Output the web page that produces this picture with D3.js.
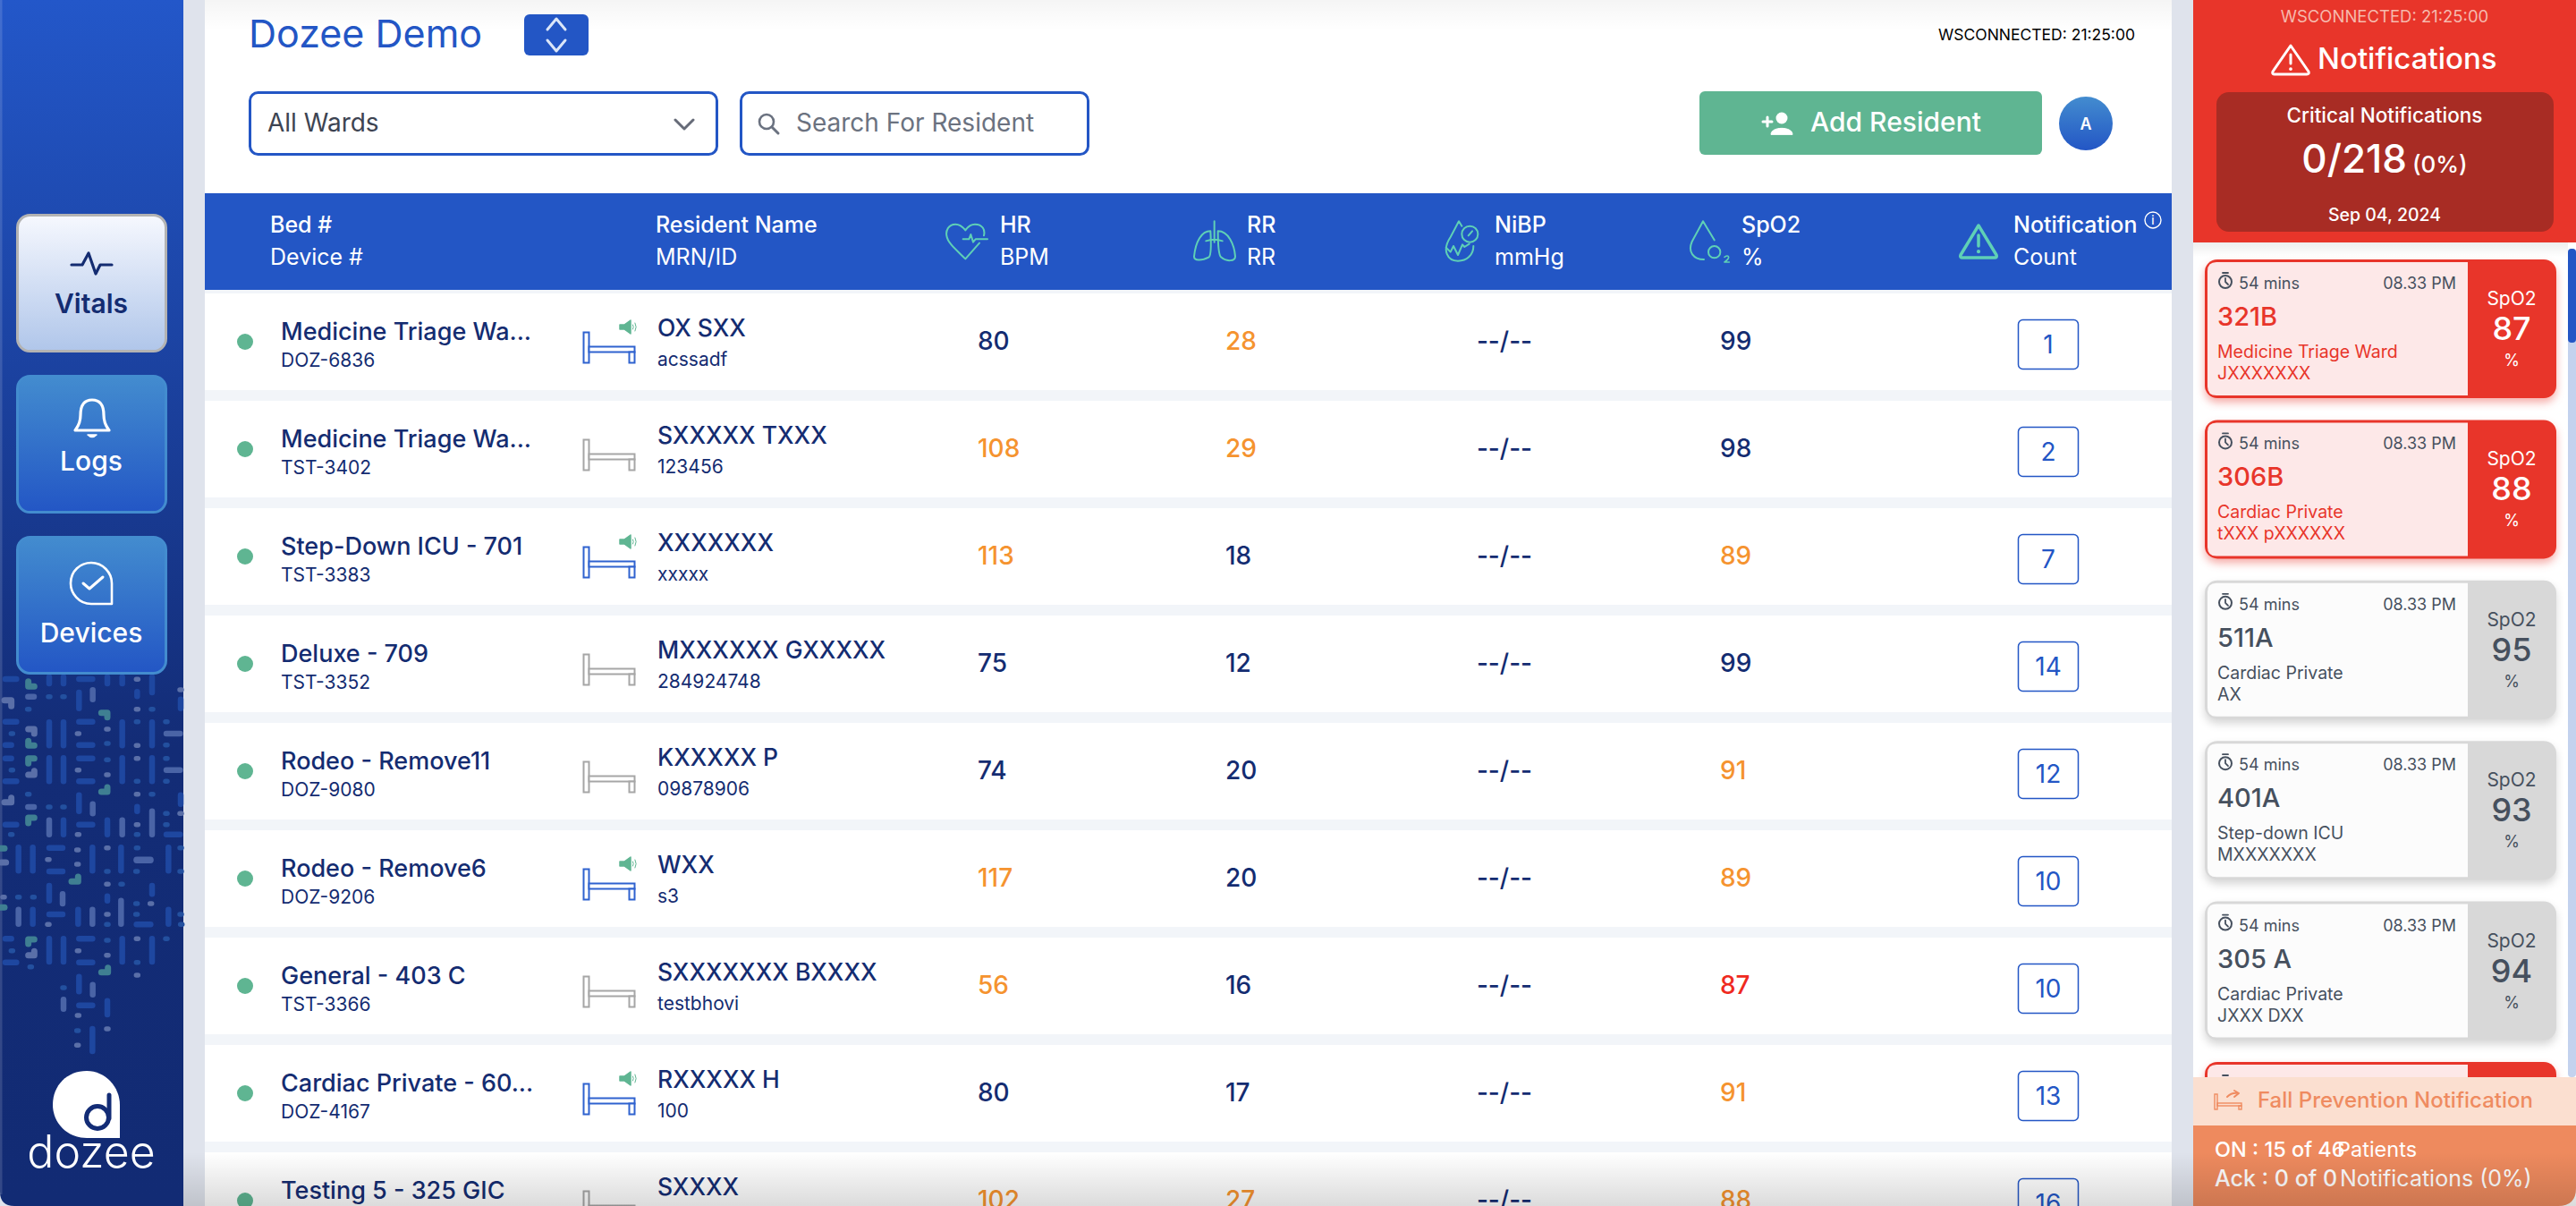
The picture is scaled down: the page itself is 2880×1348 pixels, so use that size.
<!DOCTYPE html>
<html><head><meta charset="utf-8">
<script src="https://cdn.jsdelivr.net/npm/d3@7"></script>
<style>html,body{margin:0;padding:0;background:#e1e6f0;overflow:hidden}svg{display:block}text{font-family:Inter,"Noto Sans",sans-serif}</style>
</head><body><svg id="c" width="2880" height="1348" viewBox="0 0 2880 1348"></svg>
<script>
// ---------- data ----------
const bedNames=["Medicine Triage Wa...","Medicine Triage Wa...","Step-Down ICU - 701","Deluxe - 709","Rodeo - Remove11","Rodeo - Remove6","General - 403 C","Cardiac Private - 60...","Testing 5 - 325 GIC"];
const deviceIds=["DOZ-6836","TST-3402","TST-3383","TST-3352","DOZ-9080","DOZ-9206","TST-3366","DOZ-4167",""];
const residentNames=["OX SXX","SXXXXX TXXX","XXXXXXX","MXXXXXX GXXXXX","KXXXXX P","WXX","SXXXXXXX BXXXX","RXXXXX H","SXXXX"];
const residentIds=["acssadf","123456","xxxxx","284924748","09878906","s3","testbhovi","100",""];
const hrValues=[80,108,113,75,74,117,56,80,102];
const rrValues=[28,29,18,12,20,20,16,17,27];
const spo2Values=[99,98,89,99,91,89,87,91,88];
const notifCounts=[1,2,7,14,12,10,10,13,16];
const occupied=[1,0,1,0,0,1,0,1,0];
const cardBeds=["321B","306B","511A","401A","305 A",""];
const cardWards=["Medicine Triage Ward","Cardiac Private","Cardiac Private","Step-down ICU","Cardiac Private",""];
const cardNames=["JXXXXXXX","tXXX pXXXXXX","AX","MXXXXXXX","JXXX DXX",""];
const cardValues=[87,88,95,93,94,null];
const cardCritical=[1,1,0,0,0,1];
const navItems=["Vitals","Logs","Devices"];
const headerTop=["Bed #","Resident Name","HR","RR","NiBP","SpO2","Notification"];
const headerBottom=["Device #","MRN/ID","BPM","RR","mmHg","%","Count"];
// sidebar background texture, traced dash by dash
const dashBlue=[[18,57,55,57],[265,57,310,57],[18,200,55,200],[265,200,310,200],[18,278,38,278],[265,278,310,278],[18,323,38,323],[265,323,310,323],[18,400,55,400],[265,400,310,400],[18,545,55,545],[265,545,310,545],[558,578,604,578],[165,623,210,623],[165,202,165,280],[213,202,213,280],[165,322,165,400],[213,322,213,400],[265,102,265,155],[410,202,410,280],[510,202,510,280],[410,322,410,400],[510,322,510,400],[265,446,265,500],[606,125,606,155],[606,446,606,476],[360,530,360,578],[213,530,213,578],[62,622,62,700],[110,622,110,700],[310,622,310,700],[406,622,406,700],[565,622,565,700],[165,50,165,72],[213,50,213,72],[360,50,360,72],[410,50,410,72],[510,50,510,102],[460,100,460,115],[460,485,460,500],
[165,702,210,702],[165,846,210,846],[458,880,505,880],[265,928,310,928],[265,1007,310,1007],[265,1151,310,1151],[18,1007,55,1007],[18,928,38,928],[165,750,165,800],[510,750,510,778],[262,830,262,878],[110,830,110,878],[565,830,565,878],[165,928,165,1005],[213,928,213,1005],[410,928,410,1005],[510,928,510,1005],[265,1055,265,1105],[360,1136,360,1182],[310,1230,310,1305],[360,785,360,800]];
const dashPale=[[558,240,604,240],[558,362,604,362],[94,116,114,116],[94,486,114,486],[458,662,505,662],[311,94,311,125],[311,476,311,508],[165,530,165,578],[410,530,410,578],[510,500,510,578],[458,665,505,665],[210,778,210,810],[62,830,62,878],[310,830,310,878],[406,800,406,878],[311,1082,311,1115],[213,1132,213,1163]];
const dotPale=[[460,58],[262,240],[360,225],[460,280],[460,323],[262,362],[360,378],[460,443],[460,545],[262,578],[606,93],[460,158],[360,623],[260,630],[260,678],[162,662],[606,508],[12,788],[506,810],[360,846],[162,880],[460,928],[262,968],[360,983],[460,1050],[262,1185],[360,1230],[260,1285],[360,745]];
const dotBlue=[[165,116],[213,116],[95,158],[40,240],[510,158],[460,200],[558,200],[558,278],[360,273],[360,328],[558,323],[40,362],[460,400],[558,400],[95,443],[510,443],[165,486],[213,486],[558,508],[558,545],[460,578],[38,578],[460,623],[606,623],[360,702],[458,702],[408,745],[62,788],[112,788],[458,810],[458,846],[606,846],[360,880],[608,880],[360,933],[558,928],[40,968],[460,1007],[103,1022],[213,1092],[260,1236],[606,702]];
const blobTeal=[[[95,65],[95,82],[115,82]],[[340,170],[360,170],[360,185]],[[95,265],[95,280],[115,280]],[[115,323],[95,323],[95,340]],[[340,435],[360,435],[360,420]],[[115,522],[95,522],[95,540]],[[0,625],[15,625]],[[240,736],[262,736],[262,720]],[[95,945],[95,930],[115,930]],[[340,1040],[362,1040],[362,1025]],[[0,823],[15,823]]];
const blobPale=[[[15,128],[38,128],[38,148]],[[95,225],[115,225],[115,240]],[[115,365],[115,378],[95,378]],[[15,470],[38,470],[38,455]],[[5,672],[20,672]],[[115,970],[115,983],[95,983]]];

// ---------- palette ----------
const BLUE="#2356c5",NAVY="#142c71",ORANGE="#f5932f",RED="#ef2a1f",GREEN="#5fb592",TEAL="#5fd0b6",REDP="#e8352a",GREY="#46505e";
const svg=d3.select("#c");
const defs=svg.append("defs");
function grad(id,stops,y1=0,y2=1){const g=defs.append("linearGradient").attr("id",id).attr("x1",0).attr("x2",0).attr("y1",y1).attr("y2",y2);
  stops.forEach(s=>g.append("stop").attr("offset",s[0]).attr("stop-color",s[1]).attr("stop-opacity",s[2]===undefined?1:s[2]));}
grad("side",[[0,"#2357c9"],[.62,"#132c76"],[1,"#122b74"]]);
grad("act",[[0,"#f6f8fe"],[1,"#b0c6ea"]]);
grad("inact",[[0,"#438ccf"],[1,"#2356c5"]]);
grad("fadeT",[[0,"#000",.04],[1,"#000",0]]);
grad("fadeB",[[0,"#000",0],[1,"#000",.14]]);
grad("shad",[[0,"#000",.07],[1,"#000",0]]);

function T(p,x,y,s,size,weight,fill,anchor,ls){return p.append("text").attr("x",x).attr("y",y).text(s).attr("font-size",size).attr("font-weight",weight||400).attr("fill",fill).attr("text-anchor",anchor||"start").attr("letter-spacing",ls===undefined?null:ls);}
function R(p,x,y,w,h,fill,rx){return p.append("rect").attr("x",x).attr("y",y).attr("width",w).attr("height",h).attr("fill",fill).attr("rx",rx||0);}
function P(p,d,stroke,sw,fill){return p.append("path").attr("d",d).attr("fill",fill||"none").attr("stroke",stroke||"none").attr("stroke-width",sw||0).attr("stroke-linecap","round").attr("stroke-linejoin","round");}

// ---------- page background ----------
R(svg,0,0,2880,1348,"#dfe3ec");
R(svg,229,0,2199,1348,"#f2f5f9");
R(svg,229,0,2199,216,"#ffffff");
R(svg,229,0,2199,34,"url(#fadeT)");

// ---------- sidebar ----------
P(svg,"M0 0H205V1348H16Q0 1348 0 1332Z",null,0,"url(#side)");
R(svg,0,0,2.5,1335,"#ffffff").attr("opacity",.14);
const tx=d3.scaleLinear().domain([0,630]).range([0,210]);
const ty=d3.scaleLinear().domain([0,690]).range([740,970]);
const tex=svg.append("g").attr("stroke-linecap","round").attr("stroke-linejoin","round").attr("fill","none");
const ln=d3.line().x(d=>tx(d[0])).y(d=>ty(d[1]));
function dash(arr,color,w){arr.forEach(a=>{const pts=a.length===2&&typeof a[0]==="number"?[[a[0]-3,a[1]],[a[0]+3,a[1]]]:(typeof a[0]==="number"?[[a[0],a[1]],[a[2],a[3]]]:a);
  tex.append("path").attr("d",ln(pts)).attr("stroke",color).attr("stroke-width",w);});}
dash(dashBlue,"#1e47a0",6.5);dash(dashPale,"#4a64a6",6.5);dash(dotBlue,"#23509f",5.5);dash(dotPale,"#5a6fa8",5.5);dash(blobTeal,"#3f7f92",7);dash(blobPale,"#5a6fa8",7);

const navY=d3.scaleBand().domain(navItems).range([239,754]).paddingInner(.138);
navItems.forEach((n,i)=>{
  const y=navY(n),h=navY.bandwidth(),a=i===0;
  R(svg,19.5,y+1.5,166,h-3,a?"url(#act)":"url(#inact)",14).attr("stroke",a?"#b3b3b3":"#438ccf").attr("stroke-width",3);
});
T(svg,102,350,"Vitals",30,600,NAVY,"middle");
T(svg,102,526,"Logs",30,500,"#fff","middle");
T(svg,102,718,"Devices",30,500,"#fff","middle");
P(svg,"M80 296H92L99 283L107 306L112 296H125",NAVY,3.2);
P(svg,"M103 447C92 447 90 456 90 464C90 474 86 478 84 481H122C120 478 116 474 116 464C116 456 114 447 103 447Z","#fff",3.2);
P(svg,"M98 486Q103 491 108 486Z","#fff",1.5,"#fff");
P(svg,"M125 675H102C88 675 79 663 79 652C79 638 90 629 102 629C115 629 125 640 125 652Z","#fff",2.6);
P(svg,"M93 652L100 658L115 645","#fff",3);
// logo
P(svg,"M134 1272H97C75 1272 59 1255 59 1235C59 1213 75 1197 97 1197C118 1197 134 1215 134 1235Z",null,0,"#fff");
svg.append("circle").attr("cx",109).attr("cy",1249).attr("r",12.5).attr("fill","none").attr("stroke","#132c76").attr("stroke-width",5);
P(svg,"M122 1224V1250","#132c76",5);
T(svg,102,1305,"dozee",50,300,"#fff","middle");

// ---------- top bar ----------
T(svg,278,53,"Dozee Demo",43,400,BLUE);
R(svg,586,16,72,46,BLUE,6);
P(svg,"M612 33L622 21L632 33M612 45L622 57L632 45","#dbe6f8",3);
R(svg,279.5,103.5,522,69,"#fff",9).attr("stroke",BLUE).attr("stroke-width",3);
R(svg,828.5,103.5,388,69,"#fff",9).attr("stroke",BLUE).attr("stroke-width",3);
T(svg,299,147,"All Wards",28,400,"#3d4452");
P(svg,"M755 134L765 144L775 134","#666b78",3);
svg.append("circle").attr("cx",857).attr("cy",136).attr("r",8).attr("fill","none").attr("stroke","#6b7280").attr("stroke-width",2.6);
P(svg,"M863 142L870 149","#6b7280",3);
T(svg,890,147,"Search For Resident",28,400,"#6b7280");
R(svg,1900,102,383,71,GREEN,6);
P(svg,"M1971 136H1981M1976 131V141","#fff",3);
svg.append("circle").attr("cx",1992).attr("cy",132).attr("r",6.5).attr("fill","#fff");
P(svg,"M1980 150C1980 141 2004 141 2004 150Z","#fff",1,"#fff");
T(svg,2024,147,"Add Resident",30,500,"#fff");
svg.append("circle").attr("cx",2332).attr("cy",138).attr("r",30).attr("fill","url(#inact)");
T(svg,2332,145,"A",18,600,"#fff","middle");
T(svg,2167,45,"WSCONNECTED: 21:25:00",17.5,400,"#000");

// ---------- table header ----------
R(svg,229,216,2199,108,BLUE);
const headerX=[302,733,1118,1394,1671,1947,2251];
headerTop.forEach((t,i)=>{T(svg,headerX[i],260,t,25,500,"#fff");T(svg,headerX[i],296,headerBottom[i],25,400,"#fff");});
const ico=(x,y)=>svg.append("g").attr("transform",`translate(${x},${y}) scale(${1/3})`).attr("stroke",TEAL);
const heart=ico(1050,230);
P(heart,"M150 100C155 80 145 62 120 62C105 62 95 72 88 82C80 72 70 62 55 62C30 62 22 85 25 100C28 125 60 150 88 178L135 125",TEAL,6);
P(heart,"M80 112H100L106 96L114 122L122 112H162",TEAL,6);
const lung=ico(1050,230);
P(lung,"M923 52V122M895 118Q923 108 950 118",TEAL,6);
P(lung,"M910 85C880 85 860 120 855 170C855 185 880 185 905 172C912 165 912 120 910 85Z",TEAL,6);
P(lung,"M935 85C970 85 990 130 993 170C993 185 965 190 945 172C938 165 935 120 935 85Z",TEAL,6);
const nibp=ico(1600,230);
P(nibp,"M103 68L93 52L65 105C35 150 55 185 90 185C120 185 142 165 142 135",TEAL,6);
nibp.append("circle").attr("cx",130).attr("cy",95).attr("r",27).attr("fill","none").attr("stroke",TEAL).attr("stroke-width",6);
P(nibp,"M125 100L138 85",TEAL,6);
P(nibp,"M50 140L65 155L75 135L90 165L105 130L112 138L128 128",TEAL,6);
const drop=ico(1600,230);
P(drop,"M912 52L875 120C860 155 880 180 915 180M912 52L950 115",TEAL,6);
drop.append("circle").attr("cx",950).attr("cy",155).attr("r",20).attr("fill","none").attr("stroke",TEAL).attr("stroke-width",6);
P(drop,"M984 172Q996 164 998 172Q998 180 984 189H1000",TEAL,5);
const triangle="M0 2L20 35Q21 38 18 38H-18Q-21 38 -20 35Z";
const tri=svg.append("g").attr("transform","translate(2212,250)");
P(tri,triangle,TEAL,3.5);P(tri,"M0 13V25",TEAL,3.5);P(tri,"M0 31V31.2",TEAL,4);
svg.append("circle").attr("cx",2407).attr("cy",246).attr("r",9).attr("fill","none").attr("stroke","#fff").attr("stroke-width",1.4);
T(svg,2407,251,"i",13,500,"#fff","middle");

// ---------- table rows ----------
const rowY=d3.scaleLinear().domain([0,1]).range([328,448]);
const rowH=108;
const hrColor=v=>(v>100||v<60)?ORANGE:NAVY;
const rrColor=v=>v>=25?ORANGE:NAVY;
const spColor=v=>v<=87?RED:(v<=91?ORANGE:NAVY);
bedNames.forEach((bed,i)=>{
  const g=svg.append("g").attr("transform",`translate(0,${rowY(i)})`);
  R(g,229,0,2199,rowH,"#fff");
  g.append("circle").attr("cx",274).attr("cy",54).attr("r",9).attr("fill",GREEN);
  T(g,314,52,bed,27,500,NAVY);
  T(g,314,82,deviceIds[i],21,400,NAVY);
  const c=occupied[i]?"#2f62cf":"#a6a6a6";
  const b=g.append("g").attr("fill","#fff").attr("stroke",c).attr("stroke-width",2);
  b.append("rect").attr("x",652.5).attr("y",43.5).attr("width",6).attr("height",34);
  b.append("rect").attr("x",658.5).attr("y",59.5).attr("width",51).attr("height",6);
  b.append("rect").attr("x",703.5).attr("y",65.5).attr("width",6).attr("height",12);
  if(occupied[i]){
    P(g,"M693 35H698L705 30V45L698 40H693Z",GREEN,1.5,GREEN);
    P(g,"M707.5 35Q709 37.5 707.5 40M710 33Q712.5 37.5 710 42",GREEN,1);
  }
  T(g,735,48,residentNames[i],26.5,500,NAVY);
  T(g,735,81,residentIds[i],21,400,NAVY);
  T(g,1093,63,hrValues[i],28,500,hrColor(hrValues[i]));
  T(g,1370,63,rrValues[i],28,500,rrColor(rrValues[i]));
  T(g,1682,63,"--/--",28,500,NAVY,"middle");
  T(g,1923,63,spo2Values[i],28,500,spColor(spo2Values[i]));
  R(g,2256.5,29.5,67,55,"#fff",5).attr("stroke",BLUE).attr("stroke-width",1.5);
  T(g,2290,67,notifCounts[i],28,400,BLUE,"middle");
});

// ---------- notifications panel ----------
R(svg,2452,0,428,1348,"#fff");
R(svg,2871,278,9,926,"#c3d2ee",4);
R(svg,2871,278,9,105,BLUE,4);
R(svg,2452,271,419,16,"url(#shad)");
const cardY=d3.scaleLinear().domain([0,1]).range([290,469.4]);
cardBeds.forEach((bed,i)=>{
  const crit=cardCritical[i],acc=crit?REDP:"#d8d8d8",ink=crit?REDP:GREY;
  const g=svg.append("g").attr("transform",`translate(0,${cardY(i)})`);
  R(g,2465,0,393,155,acc,14).style("filter",`drop-shadow(0 5px 5px ${crit?"rgba(232,53,42,.4)":"rgba(0,0,0,.16)"})`);
  P(g,"M2759 3V152H2478Q2468 152 2468 142V13Q2468 3 2478 3Z",null,0,crit?"#fde8e8":"#fcfcfc");
  g.append("circle").attr("cx",2488).attr("cy",25).attr("r",7).attr("fill","none").attr("stroke",GREY).attr("stroke-width",2);
  P(g,"M2485 15H2491M2488 21V25L2491 28",GREY,1.8);
  if(bed){
    T(g,2503,33,"54 mins",18,400,GREY);
    T(g,2746,33,"08.33 PM",18,400,GREY,"end");
    T(g,2479,74,bed,29,500,ink);
    T(g,2479,110,cardWards[i],19.5,400,ink);
    T(g,2479,134,cardNames[i],19.5,400,ink);
    const side=crit?"#fff":GREY;
    T(g,2808,51,"SpO2",21,400,side,"middle");
    T(g,2808,90,cardValues[i],36,500,side,"middle");
    T(g,2808,119,"%",18,400,side,"middle");
  }
});
// red header
R(svg,2452,0,428,271,REDP);
T(svg,2666,25,"WSCONNECTED: 21:25:00",18.5,400,"#f6b9ad","middle");
const tri2=svg.append("g").attr("transform","translate(2561,49)");
P(tri2,"M0 2L20 31Q21 34 18 34H-18Q-21 34 -20 31Z".replace(/34/g,"34"),"#fff",3);
P(tri2,"M0 12V22","#fff",3);P(tri2,"M0 28V28.2","#fff",3.6);
T(svg,2591,77,"Notifications",33,500,"#fff");
R(svg,2478,103,377,156,"#a82c24",14);
T(svg,2666,137,"Critical Notifications",22.5,500,"#fff","middle");
const big=T(svg,2666,193,"0/218",44,500,"#fff","middle");
big.append("tspan").text("  ").attr("font-size",22);
big.append("tspan").text("(0%)").attr("font-size",26);
T(svg,2666,247,"Sep 04, 2024",19.5,500,"#fff","middle");
// fall prevention
R(svg,2452,1204,428,54,"#fbdfd0");
const fb=svg.append("g").attr("stroke","#ef8b60").attr("fill","none").attr("stroke-width",1.4);
fb.append("rect").attr("x",2476).attr("y",1223).attr("width",3).attr("height",17);
fb.append("rect").attr("x",2479).attr("y",1233).attr("width",27).attr("height",3);
fb.append("rect").attr("x",2503).attr("y",1236).attr("width",3).attr("height",4);
P(svg,"M2490 1226Q2495 1221 2502 1222M2498 1219L2503 1222L2498 1226","#ef8b60",2);
T(svg,2524,1238,"Fall Prevention Notification",24,500,"#ef8b60");
P(svg,"M2452 1258H2880V1328Q2880 1348 2860 1348H2452Z",null,0,"#ee8a5e");
T(svg,2476,1293,"ON : 15 of 46",23.5,500,"#fff");
T(svg,2613,1293,"Patients",23.5,400,"#fff");
T(svg,2476,1326,"Ack : 0 of 0",25,500,"#fff");
T(svg,2616,1326,"Notifications (0%)",25,400,"#fff");
// bottom fade across page
R(svg,205,1288,2675,60,"url(#fadeB)");
</script></body></html>
